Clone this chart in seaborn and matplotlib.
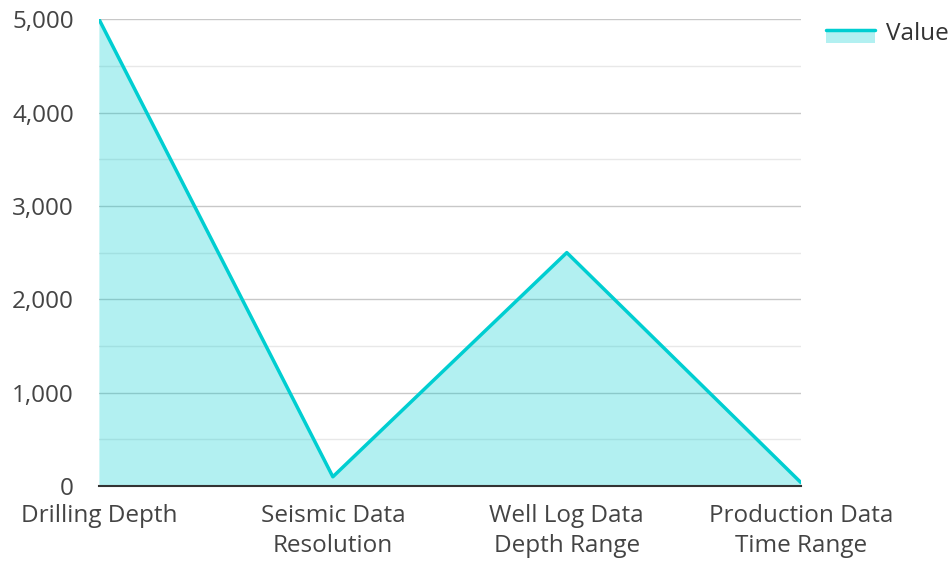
import numpy as np
import matplotlib.pyplot as plt
import seaborn as sns
import pandas as pd
from matplotlib.patches import Rectangle
from matplotlib.lines import Line2D
from matplotlib.ticker import MultipleLocator, FuncFormatter

# chart data
categories = ["Drilling Depth", "Seismic Data\nResolution",
              "Well Log Data\nDepth Range", "Production Data\nTime Range"]
values = [5000, 100, 2500, 40]

df = pd.DataFrame({"category": categories, "value": values})
color = "#00CED1"

sns.set_style("white")
plt.rcParams['font.family'] = ['Open Sans', 'DejaVu Sans']


class AreaHandler:
    # line on top of a light filled box, like the area legend
    def legend_artist(self, legend, orig_handle, fontsize, handlebox):
        x0, y0 = handlebox.xdescent, handlebox.ydescent
        w, h = handlebox.width, handlebox.height
        rect = Rectangle((x0, y0 - 0.2 * h), w, h * 0.8, facecolor=color,
                         alpha=0.3, lw=0, transform=handlebox.get_transform())
        line = Line2D([x0, x0 + w], [y0 + 0.6 * h, y0 + 0.6 * h], color=color,
                      lw=2.5, transform=handlebox.get_transform())
        handlebox.add_artist(rect)
        handlebox.add_artist(line)
        return line


fig = plt.figure(figsize=(9.51, 5.62), dpi=100)
ax = fig.add_axes([0.104, 0.135, 0.738, 0.831])

pos = np.arange(len(categories))
ax.fill_between(pos, 0, df["value"], color=color, alpha=0.3, lw=0, zorder=2)
sns.lineplot(data=df, x="category", y="value", color=color, lw=2.5,
             ax=ax, zorder=3, sort=False)

ax.set_xlim(0, len(categories) - 1)
ax.set_ylim(0, 5000)
ax.yaxis.set_major_locator(MultipleLocator(1000))
ax.yaxis.set_minor_locator(MultipleLocator(500))
ax.yaxis.set_major_formatter(FuncFormatter(lambda v, p: f"{int(v):,}"))
ax.grid(which="major", axis="y", color="#c8c8c8", lw=1, zorder=0)
ax.grid(which="minor", axis="y", color="#e8e8e8", lw=1, zorder=0)
ax.grid(False, axis="x")
ax.set_axisbelow(True)

for s in ["left", "right", "top"]:
    ax.spines[s].set_visible(False)
ax.spines["bottom"].set_color("#333333")
ax.spines["bottom"].set_linewidth(1.5)

ax.tick_params(axis="both", which="both", length=0, labelsize=17.5,
               labelcolor="#444444")
ax.tick_params(axis="y", pad=18)
ax.tick_params(axis="x", pad=13)
for lab in ax.get_xticklabels():
    lab.set_linespacing(1.3)
ax.set_xlabel("")
ax.set_ylabel("")

ax.legend([object()], ["Value"], handler_map={object: AreaHandler()},
          loc="upper left", bbox_to_anchor=(826 / 951, 1 - 22 / 562),
          bbox_transform=fig.transFigure, borderpad=0, borderaxespad=0,
          frameon=False, fontsize=17.5, labelcolor="#333333",
          handlelength=2.0, handletextpad=0.45)

plt.savefig("out.png", dpi=100)
